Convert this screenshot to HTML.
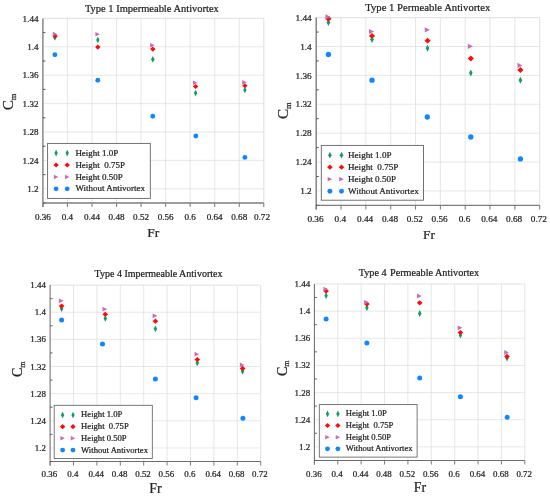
<!DOCTYPE html>
<html><head><meta charset="utf-8"><title>Cm vs Fr</title>
<style>
html,body{margin:0;padding:0;background:#fff;}
svg{display:block;font-family:"Liberation Serif", "Times New Roman", serif;}
text{stroke:#242424;stroke-width:0.24px;}
</style></head><body>
<svg width="550" height="497" viewBox="0 0 550 497">
<rect width="550" height="497" fill="#fff"/>
<g><line x1="67.44" y1="18.40" x2="67.44" y2="203.00" stroke="#dddddd" stroke-width="0.73"/>
<line x1="91.99" y1="18.40" x2="91.99" y2="203.00" stroke="#dddddd" stroke-width="0.73"/>
<line x1="116.53" y1="18.40" x2="116.53" y2="203.00" stroke="#dddddd" stroke-width="0.73"/>
<line x1="141.08" y1="18.40" x2="141.08" y2="203.00" stroke="#dddddd" stroke-width="0.73"/>
<line x1="165.62" y1="18.40" x2="165.62" y2="203.00" stroke="#dddddd" stroke-width="0.73"/>
<line x1="190.17" y1="18.40" x2="190.17" y2="203.00" stroke="#dddddd" stroke-width="0.73"/>
<line x1="214.71" y1="18.40" x2="214.71" y2="203.00" stroke="#dddddd" stroke-width="0.73"/>
<line x1="239.26" y1="18.40" x2="239.26" y2="203.00" stroke="#dddddd" stroke-width="0.73"/>
<line x1="42.90" y1="46.80" x2="263.80" y2="46.80" stroke="#dddddd" stroke-width="0.73"/>
<line x1="42.90" y1="75.20" x2="263.80" y2="75.20" stroke="#dddddd" stroke-width="0.73"/>
<line x1="42.90" y1="103.60" x2="263.80" y2="103.60" stroke="#dddddd" stroke-width="0.73"/>
<line x1="42.90" y1="132.00" x2="263.80" y2="132.00" stroke="#dddddd" stroke-width="0.73"/>
<line x1="42.90" y1="160.40" x2="263.80" y2="160.40" stroke="#dddddd" stroke-width="0.73"/>
<line x1="42.90" y1="188.80" x2="263.80" y2="188.80" stroke="#dddddd" stroke-width="0.73"/>
<path d="M42.90 18.40H263.80V203.00" fill="none" stroke="#d9d9d9" stroke-width="0.84"/>
<circle cx="54.90" cy="54.80" r="2.43" fill="#1187ff"/>
<circle cx="97.80" cy="80.20" r="2.43" fill="#1187ff"/>
<circle cx="152.80" cy="116.30" r="2.43" fill="#1187ff"/>
<circle cx="195.80" cy="136.00" r="2.43" fill="#1187ff"/>
<circle cx="244.90" cy="157.40" r="2.43" fill="#1187ff"/>
<path d="M53.24 37.40L54.90 34.07L56.56 37.40L54.90 40.73Z" fill="#0f9d5f"/>
<path d="M96.14 39.90L97.80 36.57L99.46 39.90L97.80 43.23Z" fill="#0f9d5f"/>
<path d="M151.14 59.30L152.80 55.97L154.46 59.30L152.80 62.63Z" fill="#0f9d5f"/>
<path d="M193.94 93.10L195.60 89.77L197.26 93.10L195.60 96.43Z" fill="#0f9d5f"/>
<path d="M243.24 90.00L244.90 86.67L246.56 90.00L244.90 93.33Z" fill="#0f9d5f"/>
<path d="M52.40 36.00L55.10 33.44L57.80 36.00L55.10 38.56Z" fill="#ff0a0a"/>
<path d="M95.10 47.10L97.80 44.54L100.50 47.10L97.80 49.66Z" fill="#ff0a0a"/>
<path d="M150.10 49.10L152.80 46.54L155.50 49.10L152.80 51.66Z" fill="#ff0a0a"/>
<path d="M192.90 86.50L195.60 83.94L198.30 86.50L195.60 89.06Z" fill="#ff0a0a"/>
<path d="M242.20 85.80L244.90 83.24L247.60 85.80L244.90 88.36Z" fill="#ff0a0a"/>
<path d="M52.75 31.72L57.25 34.00L52.75 36.28Z" fill="#c96bb6"/>
<path d="M95.35 31.92L99.85 34.20L95.35 36.48Z" fill="#c96bb6"/>
<path d="M150.15 43.02L154.65 45.30L150.15 47.58Z" fill="#c96bb6"/>
<path d="M192.95 80.42L197.45 82.70L192.95 84.98Z" fill="#c96bb6"/>
<path d="M242.25 80.12L246.75 82.40L242.25 84.68Z" fill="#c96bb6"/>
<rect x="47.60" y="143.40" width="102.70" height="55.00" fill="#fff" stroke="#626262" stroke-width="0.89"/>
<path d="M54.45 153.10L56.10 149.79L57.75 153.10L56.10 156.41Z" fill="#0f9d5f"/>
<path d="M65.55 153.10L67.20 149.79L68.85 153.10L67.20 156.41Z" fill="#0f9d5f"/>
<text x="75.40" y="155.72" font-size="8.98" fill="#242424">Height 1.0P</text>
<path d="M53.43 165.00L56.10 162.47L58.77 165.00L56.10 167.53Z" fill="#ff0a0a"/>
<path d="M64.53 165.00L67.20 162.47L69.87 165.00L67.20 167.53Z" fill="#ff0a0a"/>
<text x="75.40" y="167.62" font-size="8.98" fill="#242424">Height  0.75P</text>
<path d="M53.87 174.65L58.33 176.90L53.87 179.15Z" fill="#c96bb6"/>
<path d="M64.97 174.65L69.43 176.90L64.97 179.15Z" fill="#c96bb6"/>
<text x="75.40" y="179.52" font-size="8.98" fill="#242424">Height 0.50P</text>
<circle cx="56.10" cy="188.80" r="2.42" fill="#1187ff"/>
<circle cx="67.20" cy="188.80" r="2.42" fill="#1187ff"/>
<text x="75.40" y="191.42" font-size="8.98" fill="#242424">Without Antivortex</text>
<path d="M42.90 18.40V207.10M42.90 203.00H263.80" fill="none" stroke="#7d7d7d" stroke-width="1.37"/>
<line x1="42.90" y1="203.00" x2="42.90" y2="207.10" stroke="#7d7d7d" stroke-width="1.05"/>
<line x1="67.44" y1="203.00" x2="67.44" y2="207.10" stroke="#7d7d7d" stroke-width="1.05"/>
<line x1="91.99" y1="203.00" x2="91.99" y2="207.10" stroke="#7d7d7d" stroke-width="1.05"/>
<line x1="116.53" y1="203.00" x2="116.53" y2="207.10" stroke="#7d7d7d" stroke-width="1.05"/>
<line x1="141.08" y1="203.00" x2="141.08" y2="207.10" stroke="#7d7d7d" stroke-width="1.05"/>
<line x1="165.62" y1="203.00" x2="165.62" y2="207.10" stroke="#7d7d7d" stroke-width="1.05"/>
<line x1="190.17" y1="203.00" x2="190.17" y2="207.10" stroke="#7d7d7d" stroke-width="1.05"/>
<line x1="214.71" y1="203.00" x2="214.71" y2="207.10" stroke="#7d7d7d" stroke-width="1.05"/>
<line x1="239.26" y1="203.00" x2="239.26" y2="207.10" stroke="#7d7d7d" stroke-width="1.05"/>
<line x1="263.80" y1="203.00" x2="263.80" y2="207.10" stroke="#7d7d7d" stroke-width="1.05"/>
<line x1="42.90" y1="32.60" x2="45.41" y2="32.60" stroke="#5c5c5c" stroke-width="1.05"/>
<line x1="42.90" y1="61.00" x2="45.41" y2="61.00" stroke="#5c5c5c" stroke-width="1.05"/>
<line x1="42.90" y1="89.40" x2="45.41" y2="89.40" stroke="#5c5c5c" stroke-width="1.05"/>
<line x1="42.90" y1="117.80" x2="45.41" y2="117.80" stroke="#5c5c5c" stroke-width="1.05"/>
<line x1="42.90" y1="146.20" x2="45.41" y2="146.20" stroke="#5c5c5c" stroke-width="1.05"/>
<line x1="42.90" y1="174.60" x2="45.41" y2="174.60" stroke="#5c5c5c" stroke-width="1.05"/>
<line x1="42.90" y1="203.00" x2="45.41" y2="203.00" stroke="#5c5c5c" stroke-width="1.05"/>
<text x="42.90" y="219.50" font-size="9.11" text-anchor="middle" fill="#242424">0.36</text>
<text x="67.44" y="219.50" font-size="9.11" text-anchor="middle" fill="#242424">0.4</text>
<text x="91.99" y="219.50" font-size="9.11" text-anchor="middle" fill="#242424">0.44</text>
<text x="116.53" y="219.50" font-size="9.11" text-anchor="middle" fill="#242424">0.48</text>
<text x="141.08" y="219.50" font-size="9.11" text-anchor="middle" fill="#242424">0.52</text>
<text x="165.62" y="219.50" font-size="9.11" text-anchor="middle" fill="#242424">0.56</text>
<text x="190.17" y="219.50" font-size="9.11" text-anchor="middle" fill="#242424">0.6</text>
<text x="214.71" y="219.50" font-size="9.11" text-anchor="middle" fill="#242424">0.64</text>
<text x="239.26" y="219.50" font-size="9.11" text-anchor="middle" fill="#242424">0.68</text>
<text x="262.00" y="219.50" font-size="9.11" text-anchor="middle" fill="#242424">0.72</text>
<text x="38.50" y="21.54" font-size="9.11" text-anchor="end" fill="#242424">1.44</text>
<text x="38.50" y="49.94" font-size="9.11" text-anchor="end" fill="#242424">1.4</text>
<text x="38.50" y="78.34" font-size="9.11" text-anchor="end" fill="#242424">1.36</text>
<text x="38.50" y="106.74" font-size="9.11" text-anchor="end" fill="#242424">1.32</text>
<text x="38.50" y="135.14" font-size="9.11" text-anchor="end" fill="#242424">1.28</text>
<text x="38.50" y="163.54" font-size="9.11" text-anchor="end" fill="#242424">1.24</text>
<text x="38.50" y="191.94" font-size="9.11" text-anchor="end" fill="#242424">1.2</text>
<text x="151.90" y="12.10" font-size="10.47" text-anchor="middle" fill="#242424">Type 1 Impermeable Antivortex</text>
<text x="153.20" y="236.50" font-size="13.50" text-anchor="middle" fill="#242424">Fr</text>
<text transform="translate(13.30 110.10) rotate(-90)" font-size="14.87" fill="#242424">C<tspan dy="2.72" font-size="8.38">m</tspan></text></g>
<g><line x1="341.03" y1="17.60" x2="341.03" y2="205.40" stroke="#dddddd" stroke-width="0.74"/>
<line x1="365.87" y1="17.60" x2="365.87" y2="205.40" stroke="#dddddd" stroke-width="0.74"/>
<line x1="390.70" y1="17.60" x2="390.70" y2="205.40" stroke="#dddddd" stroke-width="0.74"/>
<line x1="415.53" y1="17.60" x2="415.53" y2="205.40" stroke="#dddddd" stroke-width="0.74"/>
<line x1="440.37" y1="17.60" x2="440.37" y2="205.40" stroke="#dddddd" stroke-width="0.74"/>
<line x1="465.20" y1="17.60" x2="465.20" y2="205.40" stroke="#dddddd" stroke-width="0.74"/>
<line x1="490.03" y1="17.60" x2="490.03" y2="205.40" stroke="#dddddd" stroke-width="0.74"/>
<line x1="514.87" y1="17.60" x2="514.87" y2="205.40" stroke="#dddddd" stroke-width="0.74"/>
<line x1="316.20" y1="46.49" x2="539.70" y2="46.49" stroke="#dddddd" stroke-width="0.74"/>
<line x1="316.20" y1="75.38" x2="539.70" y2="75.38" stroke="#dddddd" stroke-width="0.74"/>
<line x1="316.20" y1="104.28" x2="539.70" y2="104.28" stroke="#dddddd" stroke-width="0.74"/>
<line x1="316.20" y1="133.17" x2="539.70" y2="133.17" stroke="#dddddd" stroke-width="0.74"/>
<line x1="316.20" y1="162.06" x2="539.70" y2="162.06" stroke="#dddddd" stroke-width="0.74"/>
<line x1="316.20" y1="190.95" x2="539.70" y2="190.95" stroke="#dddddd" stroke-width="0.74"/>
<path d="M316.20 17.60H539.70V205.40" fill="none" stroke="#d9d9d9" stroke-width="0.85"/>
<circle cx="328.40" cy="54.50" r="2.65" fill="#1187ff"/>
<circle cx="372.00" cy="80.20" r="2.65" fill="#1187ff"/>
<circle cx="427.30" cy="117.00" r="2.65" fill="#1187ff"/>
<circle cx="470.80" cy="137.00" r="2.65" fill="#1187ff"/>
<circle cx="520.40" cy="158.90" r="2.65" fill="#1187ff"/>
<path d="M326.63 22.40L328.40 18.85L330.17 22.40L328.40 25.95Z" fill="#0f9d5f"/>
<path d="M370.23 39.40L372.00 35.85L373.77 39.40L372.00 42.95Z" fill="#0f9d5f"/>
<path d="M425.73 48.30L427.50 44.75L429.27 48.30L427.50 51.85Z" fill="#0f9d5f"/>
<path d="M469.03 73.00L470.80 69.45L472.57 73.00L470.80 76.55Z" fill="#0f9d5f"/>
<path d="M518.63 80.20L520.40 76.65L522.17 80.20L520.40 83.75Z" fill="#0f9d5f"/>
<path d="M325.33 18.80L328.40 15.89L331.47 18.80L328.40 21.71Z" fill="#ff0a0a"/>
<path d="M368.93 35.90L372.00 32.98L375.07 35.90L372.00 38.81Z" fill="#ff0a0a"/>
<path d="M424.53 40.70L427.60 37.79L430.67 40.70L427.60 43.62Z" fill="#ff0a0a"/>
<path d="M467.73 58.50L470.80 55.59L473.87 58.50L470.80 61.41Z" fill="#ff0a0a"/>
<path d="M517.33 70.00L520.40 67.08L523.47 70.00L520.40 72.92Z" fill="#ff0a0a"/>
<path d="M325.43 14.20L330.57 16.80L325.43 19.40Z" fill="#c96bb6"/>
<path d="M369.03 29.00L374.17 31.60L369.03 34.20Z" fill="#c96bb6"/>
<path d="M424.73 27.20L429.87 29.80L424.73 32.40Z" fill="#c96bb6"/>
<path d="M467.83 43.70L472.97 46.30L467.83 48.90Z" fill="#c96bb6"/>
<path d="M517.43 62.80L522.57 65.40L517.43 68.00Z" fill="#c96bb6"/>
<rect x="321.30" y="145.40" width="102.20" height="54.80" fill="#fff" stroke="#626262" stroke-width="0.90"/>
<path d="M328.22 155.18L329.90 151.82L331.58 155.18L329.90 158.54Z" fill="#0f9d5f"/>
<path d="M339.82 155.18L341.50 151.82L343.18 155.18L341.50 158.54Z" fill="#0f9d5f"/>
<text x="348.00" y="157.84" font-size="9.12" fill="#242424">Height 1.0P</text>
<path d="M327.15 167.18L329.90 164.57L332.66 167.18L329.90 169.79Z" fill="#ff0a0a"/>
<path d="M338.75 167.18L341.50 164.57L344.25 167.18L341.50 169.79Z" fill="#ff0a0a"/>
<text x="348.00" y="169.84" font-size="9.12" fill="#242424">Height  0.75P</text>
<path d="M327.60 176.85L332.20 179.18L327.60 181.51Z" fill="#c96bb6"/>
<path d="M339.20 176.85L343.80 179.18L339.20 181.51Z" fill="#c96bb6"/>
<text x="348.00" y="181.84" font-size="9.12" fill="#242424">Height 0.50P</text>
<circle cx="329.90" cy="191.18" r="2.47" fill="#1187ff"/>
<circle cx="341.50" cy="191.18" r="2.47" fill="#1187ff"/>
<text x="348.00" y="193.84" font-size="9.12" fill="#242424">Without Antivortex</text>
<path d="M316.20 17.60V209.50M316.20 205.40H539.70" fill="none" stroke="#7d7d7d" stroke-width="1.41"/>
<line x1="316.20" y1="205.40" x2="316.20" y2="209.50" stroke="#7d7d7d" stroke-width="1.06"/>
<line x1="341.03" y1="205.40" x2="341.03" y2="209.50" stroke="#7d7d7d" stroke-width="1.06"/>
<line x1="365.87" y1="205.40" x2="365.87" y2="209.50" stroke="#7d7d7d" stroke-width="1.06"/>
<line x1="390.70" y1="205.40" x2="390.70" y2="209.50" stroke="#7d7d7d" stroke-width="1.06"/>
<line x1="415.53" y1="205.40" x2="415.53" y2="209.50" stroke="#7d7d7d" stroke-width="1.06"/>
<line x1="440.37" y1="205.40" x2="440.37" y2="209.50" stroke="#7d7d7d" stroke-width="1.06"/>
<line x1="465.20" y1="205.40" x2="465.20" y2="209.50" stroke="#7d7d7d" stroke-width="1.06"/>
<line x1="490.03" y1="205.40" x2="490.03" y2="209.50" stroke="#7d7d7d" stroke-width="1.06"/>
<line x1="514.87" y1="205.40" x2="514.87" y2="209.50" stroke="#7d7d7d" stroke-width="1.06"/>
<line x1="539.70" y1="205.40" x2="539.70" y2="209.50" stroke="#7d7d7d" stroke-width="1.06"/>
<line x1="316.20" y1="32.05" x2="318.75" y2="32.05" stroke="#5c5c5c" stroke-width="1.06"/>
<line x1="316.20" y1="60.94" x2="318.75" y2="60.94" stroke="#5c5c5c" stroke-width="1.06"/>
<line x1="316.20" y1="89.83" x2="318.75" y2="89.83" stroke="#5c5c5c" stroke-width="1.06"/>
<line x1="316.20" y1="118.72" x2="318.75" y2="118.72" stroke="#5c5c5c" stroke-width="1.06"/>
<line x1="316.20" y1="147.62" x2="318.75" y2="147.62" stroke="#5c5c5c" stroke-width="1.06"/>
<line x1="316.20" y1="176.51" x2="318.75" y2="176.51" stroke="#5c5c5c" stroke-width="1.06"/>
<line x1="316.20" y1="205.40" x2="318.75" y2="205.40" stroke="#5c5c5c" stroke-width="1.06"/>
<text x="315.50" y="221.90" font-size="9.22" text-anchor="middle" fill="#242424">0.36</text>
<text x="340.33" y="221.90" font-size="9.22" text-anchor="middle" fill="#242424">0.4</text>
<text x="365.17" y="221.90" font-size="9.22" text-anchor="middle" fill="#242424">0.44</text>
<text x="390.00" y="221.90" font-size="9.22" text-anchor="middle" fill="#242424">0.48</text>
<text x="414.83" y="221.90" font-size="9.22" text-anchor="middle" fill="#242424">0.52</text>
<text x="439.67" y="221.90" font-size="9.22" text-anchor="middle" fill="#242424">0.56</text>
<text x="464.50" y="221.90" font-size="9.22" text-anchor="middle" fill="#242424">0.6</text>
<text x="489.33" y="221.90" font-size="9.22" text-anchor="middle" fill="#242424">0.64</text>
<text x="514.17" y="221.90" font-size="9.22" text-anchor="middle" fill="#242424">0.68</text>
<text x="538.90" y="221.90" font-size="9.22" text-anchor="middle" fill="#242424">0.72</text>
<text x="311.74" y="20.79" font-size="9.22" text-anchor="end" fill="#242424">1.44</text>
<text x="311.74" y="49.68" font-size="9.22" text-anchor="end" fill="#242424">1.4</text>
<text x="311.74" y="78.57" font-size="9.22" text-anchor="end" fill="#242424">1.36</text>
<text x="311.74" y="107.46" font-size="9.22" text-anchor="end" fill="#242424">1.32</text>
<text x="311.74" y="136.36" font-size="9.22" text-anchor="end" fill="#242424">1.28</text>
<text x="311.74" y="165.25" font-size="9.22" text-anchor="end" fill="#242424">1.24</text>
<text x="311.74" y="194.14" font-size="9.22" text-anchor="end" fill="#242424">1.2</text>
<text x="427.80" y="11.40" font-size="10.66" text-anchor="middle" fill="#242424">Type 1 Permeable Antivortex</text>
<text x="429.00" y="238.70" font-size="13.40" text-anchor="middle" fill="#242424">Fr</text>
<text transform="translate(288.30 119.10) rotate(-90)" font-size="15.09" fill="#242424">C<tspan dy="2.76" font-size="8.50">m</tspan></text></g>
<g><line x1="73.50" y1="285.10" x2="73.50" y2="461.50" stroke="#dddddd" stroke-width="0.70"/>
<line x1="96.90" y1="285.10" x2="96.90" y2="461.50" stroke="#dddddd" stroke-width="0.70"/>
<line x1="120.30" y1="285.10" x2="120.30" y2="461.50" stroke="#dddddd" stroke-width="0.70"/>
<line x1="143.70" y1="285.10" x2="143.70" y2="461.50" stroke="#dddddd" stroke-width="0.70"/>
<line x1="167.10" y1="285.10" x2="167.10" y2="461.50" stroke="#dddddd" stroke-width="0.70"/>
<line x1="190.50" y1="285.10" x2="190.50" y2="461.50" stroke="#dddddd" stroke-width="0.70"/>
<line x1="213.90" y1="285.10" x2="213.90" y2="461.50" stroke="#dddddd" stroke-width="0.70"/>
<line x1="237.30" y1="285.10" x2="237.30" y2="461.50" stroke="#dddddd" stroke-width="0.70"/>
<line x1="50.10" y1="312.24" x2="260.70" y2="312.24" stroke="#dddddd" stroke-width="0.70"/>
<line x1="50.10" y1="339.38" x2="260.70" y2="339.38" stroke="#dddddd" stroke-width="0.70"/>
<line x1="50.10" y1="366.52" x2="260.70" y2="366.52" stroke="#dddddd" stroke-width="0.70"/>
<line x1="50.10" y1="393.65" x2="260.70" y2="393.65" stroke="#dddddd" stroke-width="0.70"/>
<line x1="50.10" y1="420.79" x2="260.70" y2="420.79" stroke="#dddddd" stroke-width="0.70"/>
<line x1="50.10" y1="447.93" x2="260.70" y2="447.93" stroke="#dddddd" stroke-width="0.70"/>
<path d="M50.10 285.10H260.70V461.50" fill="none" stroke="#d9d9d9" stroke-width="0.80"/>
<circle cx="61.60" cy="319.90" r="2.50" fill="#1187ff"/>
<circle cx="102.50" cy="344.00" r="2.50" fill="#1187ff"/>
<circle cx="155.40" cy="378.90" r="2.50" fill="#1187ff"/>
<circle cx="196.10" cy="397.70" r="2.50" fill="#1187ff"/>
<circle cx="242.90" cy="418.30" r="2.50" fill="#1187ff"/>
<path d="M59.91 308.70L61.60 305.30L63.29 308.70L61.60 312.10Z" fill="#0f9d5f"/>
<path d="M103.61 318.40L105.30 315.00L106.99 318.40L105.30 321.80Z" fill="#0f9d5f"/>
<path d="M153.71 328.80L155.40 325.40L157.09 328.80L155.40 332.20Z" fill="#0f9d5f"/>
<path d="M195.61 362.90L197.30 359.50L198.99 362.90L197.30 366.30Z" fill="#0f9d5f"/>
<path d="M240.91 371.30L242.60 367.90L244.29 371.30L242.60 374.70Z" fill="#0f9d5f"/>
<path d="M58.79 306.10L61.60 303.43L64.41 306.10L61.60 308.77Z" fill="#ff0a0a"/>
<path d="M102.49 314.30L105.30 311.63L108.11 314.30L105.30 316.97Z" fill="#ff0a0a"/>
<path d="M152.59 321.20L155.40 318.53L158.21 321.20L155.40 323.87Z" fill="#ff0a0a"/>
<path d="M194.49 359.60L197.30 356.93L200.11 359.60L197.30 362.27Z" fill="#ff0a0a"/>
<path d="M239.79 368.50L242.60 365.83L245.41 368.50L242.60 371.17Z" fill="#ff0a0a"/>
<path d="M58.85 298.42L63.55 300.80L58.85 303.18Z" fill="#c96bb6"/>
<path d="M102.55 306.82L107.25 309.20L102.55 311.58Z" fill="#c96bb6"/>
<path d="M152.65 313.42L157.35 315.80L152.65 318.18Z" fill="#c96bb6"/>
<path d="M194.55 351.82L199.25 354.20L194.55 356.58Z" fill="#c96bb6"/>
<path d="M239.85 362.52L244.55 364.90L239.85 367.28Z" fill="#c96bb6"/>
<rect x="54.20" y="405.30" width="98.10" height="53.20" fill="#fff" stroke="#626262" stroke-width="0.85"/>
<path d="M60.95 414.95L62.60 411.64L64.25 414.95L62.60 418.26Z" fill="#0f9d5f"/>
<path d="M71.35 414.95L73.00 411.64L74.65 414.95L73.00 418.26Z" fill="#0f9d5f"/>
<text x="81.10" y="417.45" font-size="8.62" fill="#242424">Height 1.0P</text>
<path d="M59.93 426.65L62.60 424.12L65.27 426.65L62.60 429.18Z" fill="#ff0a0a"/>
<path d="M70.33 426.65L73.00 424.12L75.67 426.65L73.00 429.18Z" fill="#ff0a0a"/>
<text x="81.10" y="429.15" font-size="8.62" fill="#242424">Height  0.75P</text>
<path d="M60.37 436.10L64.83 438.35L60.37 440.60Z" fill="#c96bb6"/>
<path d="M70.77 436.10L75.23 438.35L70.77 440.60Z" fill="#c96bb6"/>
<text x="81.10" y="440.85" font-size="8.62" fill="#242424">Height 0.50P</text>
<circle cx="62.60" cy="450.05" r="2.42" fill="#1187ff"/>
<circle cx="73.00" cy="450.05" r="2.42" fill="#1187ff"/>
<text x="81.10" y="452.55" font-size="8.62" fill="#242424">Without Antivortex</text>
<path d="M50.10 285.10V465.60M50.10 461.50H260.70" fill="none" stroke="#6c6c6c" stroke-width="1.05"/>
<line x1="50.10" y1="461.50" x2="50.10" y2="465.60" stroke="#7d7d7d" stroke-width="1.00"/>
<line x1="73.50" y1="461.50" x2="73.50" y2="465.60" stroke="#7d7d7d" stroke-width="1.00"/>
<line x1="96.90" y1="461.50" x2="96.90" y2="465.60" stroke="#7d7d7d" stroke-width="1.00"/>
<line x1="120.30" y1="461.50" x2="120.30" y2="465.60" stroke="#7d7d7d" stroke-width="1.00"/>
<line x1="143.70" y1="461.50" x2="143.70" y2="465.60" stroke="#7d7d7d" stroke-width="1.00"/>
<line x1="167.10" y1="461.50" x2="167.10" y2="465.60" stroke="#7d7d7d" stroke-width="1.00"/>
<line x1="190.50" y1="461.50" x2="190.50" y2="465.60" stroke="#7d7d7d" stroke-width="1.00"/>
<line x1="213.90" y1="461.50" x2="213.90" y2="465.60" stroke="#7d7d7d" stroke-width="1.00"/>
<line x1="237.30" y1="461.50" x2="237.30" y2="465.60" stroke="#7d7d7d" stroke-width="1.00"/>
<line x1="260.70" y1="461.50" x2="260.70" y2="465.60" stroke="#7d7d7d" stroke-width="1.00"/>
<line x1="50.10" y1="298.67" x2="52.50" y2="298.67" stroke="#5c5c5c" stroke-width="1.00"/>
<line x1="50.10" y1="325.81" x2="52.50" y2="325.81" stroke="#5c5c5c" stroke-width="1.00"/>
<line x1="50.10" y1="352.95" x2="52.50" y2="352.95" stroke="#5c5c5c" stroke-width="1.00"/>
<line x1="50.10" y1="380.08" x2="52.50" y2="380.08" stroke="#5c5c5c" stroke-width="1.00"/>
<line x1="50.10" y1="407.22" x2="52.50" y2="407.22" stroke="#5c5c5c" stroke-width="1.00"/>
<line x1="50.10" y1="434.36" x2="52.50" y2="434.36" stroke="#5c5c5c" stroke-width="1.00"/>
<line x1="50.10" y1="461.50" x2="52.50" y2="461.50" stroke="#5c5c5c" stroke-width="1.00"/>
<text x="49.40" y="477.40" font-size="8.92" text-anchor="middle" fill="#242424">0.36</text>
<text x="72.80" y="477.40" font-size="8.92" text-anchor="middle" fill="#242424">0.4</text>
<text x="96.20" y="477.40" font-size="8.92" text-anchor="middle" fill="#242424">0.44</text>
<text x="119.60" y="477.40" font-size="8.92" text-anchor="middle" fill="#242424">0.48</text>
<text x="143.00" y="477.40" font-size="8.92" text-anchor="middle" fill="#242424">0.52</text>
<text x="166.40" y="477.40" font-size="8.92" text-anchor="middle" fill="#242424">0.56</text>
<text x="189.80" y="477.40" font-size="8.92" text-anchor="middle" fill="#242424">0.6</text>
<text x="213.20" y="477.40" font-size="8.92" text-anchor="middle" fill="#242424">0.64</text>
<text x="236.60" y="477.40" font-size="8.92" text-anchor="middle" fill="#242424">0.68</text>
<text x="259.80" y="477.40" font-size="8.92" text-anchor="middle" fill="#242424">0.72</text>
<text x="45.90" y="288.10" font-size="8.92" text-anchor="end" fill="#242424">1.44</text>
<text x="45.90" y="315.24" font-size="8.92" text-anchor="end" fill="#242424">1.4</text>
<text x="45.90" y="342.38" font-size="8.92" text-anchor="end" fill="#242424">1.36</text>
<text x="45.90" y="369.52" font-size="8.92" text-anchor="end" fill="#242424">1.32</text>
<text x="45.90" y="396.65" font-size="8.92" text-anchor="end" fill="#242424">1.28</text>
<text x="45.90" y="423.79" font-size="8.92" text-anchor="end" fill="#242424">1.24</text>
<text x="45.90" y="450.93" font-size="8.92" text-anchor="end" fill="#242424">1.2</text>
<text x="158.50" y="276.60" font-size="10.00" text-anchor="middle" fill="#242424">Type 4 Impermeable Antivortex</text>
<text x="155.40" y="492.80" font-size="13.80" text-anchor="middle" fill="#242424">Fr</text>
<text transform="translate(21.90 377.10) rotate(-90)" font-size="14.20" fill="#242424">C<tspan dy="2.60" font-size="8.00">m</tspan></text></g>
<g><line x1="337.78" y1="284.00" x2="337.78" y2="460.40" stroke="#dddddd" stroke-width="0.70"/>
<line x1="361.16" y1="284.00" x2="361.16" y2="460.40" stroke="#dddddd" stroke-width="0.70"/>
<line x1="384.53" y1="284.00" x2="384.53" y2="460.40" stroke="#dddddd" stroke-width="0.70"/>
<line x1="407.91" y1="284.00" x2="407.91" y2="460.40" stroke="#dddddd" stroke-width="0.70"/>
<line x1="431.29" y1="284.00" x2="431.29" y2="460.40" stroke="#dddddd" stroke-width="0.70"/>
<line x1="454.67" y1="284.00" x2="454.67" y2="460.40" stroke="#dddddd" stroke-width="0.70"/>
<line x1="478.04" y1="284.00" x2="478.04" y2="460.40" stroke="#dddddd" stroke-width="0.70"/>
<line x1="501.42" y1="284.00" x2="501.42" y2="460.40" stroke="#dddddd" stroke-width="0.70"/>
<line x1="314.40" y1="311.14" x2="524.80" y2="311.14" stroke="#dddddd" stroke-width="0.70"/>
<line x1="314.40" y1="338.28" x2="524.80" y2="338.28" stroke="#dddddd" stroke-width="0.70"/>
<line x1="314.40" y1="365.42" x2="524.80" y2="365.42" stroke="#dddddd" stroke-width="0.70"/>
<line x1="314.40" y1="392.55" x2="524.80" y2="392.55" stroke="#dddddd" stroke-width="0.70"/>
<line x1="314.40" y1="419.69" x2="524.80" y2="419.69" stroke="#dddddd" stroke-width="0.70"/>
<line x1="314.40" y1="446.83" x2="524.80" y2="446.83" stroke="#dddddd" stroke-width="0.70"/>
<path d="M314.40 284.00H524.80V460.40" fill="none" stroke="#d9d9d9" stroke-width="0.80"/>
<circle cx="326.10" cy="318.90" r="2.50" fill="#1187ff"/>
<circle cx="366.90" cy="343.00" r="2.50" fill="#1187ff"/>
<circle cx="419.70" cy="377.90" r="2.50" fill="#1187ff"/>
<circle cx="460.40" cy="396.70" r="2.50" fill="#1187ff"/>
<circle cx="507.20" cy="417.30" r="2.50" fill="#1187ff"/>
<path d="M324.41 295.70L326.10 292.30L327.79 295.70L326.10 299.10Z" fill="#0f9d5f"/>
<path d="M365.21 307.70L366.90 304.30L368.59 307.70L366.90 311.10Z" fill="#0f9d5f"/>
<path d="M418.01 313.50L419.70 310.10L421.39 313.50L419.70 316.90Z" fill="#0f9d5f"/>
<path d="M458.71 335.20L460.40 331.80L462.09 335.20L460.40 338.60Z" fill="#0f9d5f"/>
<path d="M505.31 358.10L507.00 354.70L508.69 358.10L507.00 361.50Z" fill="#0f9d5f"/>
<path d="M323.29 291.10L326.10 288.43L328.91 291.10L326.10 293.77Z" fill="#ff0a0a"/>
<path d="M364.09 304.10L366.90 301.43L369.71 304.10L366.90 306.77Z" fill="#ff0a0a"/>
<path d="M416.89 302.80L419.70 300.13L422.51 302.80L419.70 305.47Z" fill="#ff0a0a"/>
<path d="M457.59 332.60L460.40 329.93L463.21 332.60L460.40 335.27Z" fill="#ff0a0a"/>
<path d="M504.19 356.50L507.00 353.83L509.81 356.50L507.00 359.17Z" fill="#ff0a0a"/>
<path d="M323.35 286.72L328.05 289.10L323.35 291.48Z" fill="#c96bb6"/>
<path d="M364.15 299.92L368.85 302.30L364.15 304.68Z" fill="#c96bb6"/>
<path d="M416.95 293.62L421.65 296.00L416.95 298.38Z" fill="#c96bb6"/>
<path d="M457.65 325.42L462.35 327.80L457.65 330.18Z" fill="#c96bb6"/>
<path d="M504.25 350.12L508.95 352.50L504.25 354.88Z" fill="#c96bb6"/>
<rect x="319.30" y="404.60" width="97.80" height="52.50" fill="#fff" stroke="#626262" stroke-width="0.85"/>
<path d="M325.85 413.90L327.50 410.59L329.15 413.90L327.50 417.21Z" fill="#0f9d5f"/>
<path d="M336.25 413.90L337.90 410.59L339.55 413.90L337.90 417.21Z" fill="#0f9d5f"/>
<text x="345.70" y="416.40" font-size="8.62" fill="#242424">Height 1.0P</text>
<path d="M324.83 425.55L327.50 423.02L330.17 425.55L327.50 428.08Z" fill="#ff0a0a"/>
<path d="M335.23 425.55L337.90 423.02L340.57 425.55L337.90 428.08Z" fill="#ff0a0a"/>
<text x="345.70" y="428.05" font-size="8.62" fill="#242424">Height  0.75P</text>
<path d="M325.27 434.95L329.73 437.20L325.27 439.45Z" fill="#c96bb6"/>
<path d="M335.67 434.95L340.13 437.20L335.67 439.45Z" fill="#c96bb6"/>
<text x="345.70" y="439.70" font-size="8.62" fill="#242424">Height 0.50P</text>
<circle cx="327.50" cy="448.85" r="2.42" fill="#1187ff"/>
<circle cx="337.90" cy="448.85" r="2.42" fill="#1187ff"/>
<text x="345.70" y="451.35" font-size="8.62" fill="#242424">Without Antivortex</text>
<path d="M314.40 284.00V464.50M314.40 460.40H524.80" fill="none" stroke="#6c6c6c" stroke-width="1.05"/>
<line x1="314.40" y1="460.40" x2="314.40" y2="464.50" stroke="#7d7d7d" stroke-width="1.00"/>
<line x1="337.78" y1="460.40" x2="337.78" y2="464.50" stroke="#7d7d7d" stroke-width="1.00"/>
<line x1="361.16" y1="460.40" x2="361.16" y2="464.50" stroke="#7d7d7d" stroke-width="1.00"/>
<line x1="384.53" y1="460.40" x2="384.53" y2="464.50" stroke="#7d7d7d" stroke-width="1.00"/>
<line x1="407.91" y1="460.40" x2="407.91" y2="464.50" stroke="#7d7d7d" stroke-width="1.00"/>
<line x1="431.29" y1="460.40" x2="431.29" y2="464.50" stroke="#7d7d7d" stroke-width="1.00"/>
<line x1="454.67" y1="460.40" x2="454.67" y2="464.50" stroke="#7d7d7d" stroke-width="1.00"/>
<line x1="478.04" y1="460.40" x2="478.04" y2="464.50" stroke="#7d7d7d" stroke-width="1.00"/>
<line x1="501.42" y1="460.40" x2="501.42" y2="464.50" stroke="#7d7d7d" stroke-width="1.00"/>
<line x1="524.80" y1="460.40" x2="524.80" y2="464.50" stroke="#7d7d7d" stroke-width="1.00"/>
<line x1="314.40" y1="297.57" x2="316.80" y2="297.57" stroke="#5c5c5c" stroke-width="1.00"/>
<line x1="314.40" y1="324.71" x2="316.80" y2="324.71" stroke="#5c5c5c" stroke-width="1.00"/>
<line x1="314.40" y1="351.85" x2="316.80" y2="351.85" stroke="#5c5c5c" stroke-width="1.00"/>
<line x1="314.40" y1="378.98" x2="316.80" y2="378.98" stroke="#5c5c5c" stroke-width="1.00"/>
<line x1="314.40" y1="406.12" x2="316.80" y2="406.12" stroke="#5c5c5c" stroke-width="1.00"/>
<line x1="314.40" y1="433.26" x2="316.80" y2="433.26" stroke="#5c5c5c" stroke-width="1.00"/>
<line x1="314.40" y1="460.40" x2="316.80" y2="460.40" stroke="#5c5c5c" stroke-width="1.00"/>
<text x="313.80" y="476.70" font-size="8.92" text-anchor="middle" fill="#242424">0.36</text>
<text x="337.18" y="476.70" font-size="8.92" text-anchor="middle" fill="#242424">0.4</text>
<text x="360.56" y="476.70" font-size="8.92" text-anchor="middle" fill="#242424">0.44</text>
<text x="383.93" y="476.70" font-size="8.92" text-anchor="middle" fill="#242424">0.48</text>
<text x="407.31" y="476.70" font-size="8.92" text-anchor="middle" fill="#242424">0.52</text>
<text x="430.69" y="476.70" font-size="8.92" text-anchor="middle" fill="#242424">0.56</text>
<text x="454.07" y="476.70" font-size="8.92" text-anchor="middle" fill="#242424">0.6</text>
<text x="477.44" y="476.70" font-size="8.92" text-anchor="middle" fill="#242424">0.64</text>
<text x="500.82" y="476.70" font-size="8.92" text-anchor="middle" fill="#242424">0.68</text>
<text x="524.20" y="476.70" font-size="8.92" text-anchor="middle" fill="#242424">0.72</text>
<text x="310.20" y="287.00" font-size="8.92" text-anchor="end" fill="#242424">1.44</text>
<text x="310.20" y="314.14" font-size="8.92" text-anchor="end" fill="#242424">1.4</text>
<text x="310.20" y="341.28" font-size="8.92" text-anchor="end" fill="#242424">1.36</text>
<text x="310.20" y="368.42" font-size="8.92" text-anchor="end" fill="#242424">1.32</text>
<text x="310.20" y="395.55" font-size="8.92" text-anchor="end" fill="#242424">1.28</text>
<text x="310.20" y="422.69" font-size="8.92" text-anchor="end" fill="#242424">1.24</text>
<text x="310.20" y="449.83" font-size="8.92" text-anchor="end" fill="#242424">1.2</text>
<text y="276.00" font-size="10.20" fill="#242424"><tspan x="358.70">Type 4 </tspan><tspan x="390.00">Permeable Antivortex</tspan></text>
<text x="419.90" y="491.60" font-size="13.80" text-anchor="middle" fill="#242424">Fr</text>
<text transform="translate(286.60 376.10) rotate(-90)" font-size="14.20" fill="#242424">C<tspan dy="2.60" font-size="8.00">m</tspan></text></g>
</svg>
</body></html>
